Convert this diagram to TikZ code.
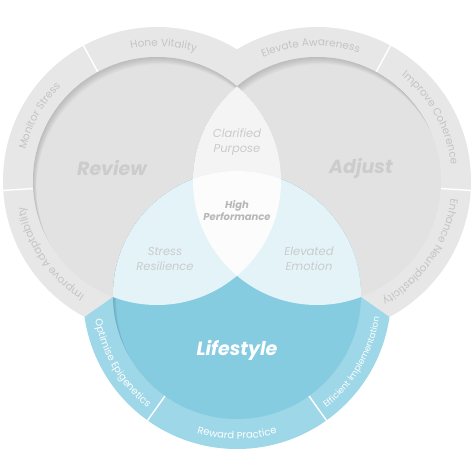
\documentclass[tikz,border=0pt]{standalone}
\usepackage{fontspec}
\setmainfont{Poppins}
\usetikzlibrary{decorations.text}

\definecolor{ringgray}{HTML}{E7E7E7}
\definecolor{diskgray}{HTML}{E2E2E2}
\definecolor{lensgray}{HTML}{F4F4F4}
\definecolor{lensblue}{HTML}{E3F3F8}
\definecolor{lifedisk}{HTML}{86CCE1}
\definecolor{lifering}{HTML}{9ED7E7}
\definecolor{graytext}{HTML}{C4C4C4}
\definecolor{lenstext}{HTML}{CBCBCB}
\definecolor{hightext}{HTML}{B7B7B7}

\newcommand{\ringfont}{\fontsize{10.5}{10.5}\selectfont}
\newcommand{\lifefont}{\fontsize{10}{10}\selectfont}
\newcommand{\lifesmallfont}{\fontsize{8.8}{8.8}\selectfont}

\begin{document}
\begin{tikzpicture}[x=1pt, y=1pt,
    ringlabel/.style={decorate, decoration={text along path, text align=center,
                      text color=graytext, text={|\ringfont|#1}}},
    lifelabel/.style={decorate, decoration={text along path, text align=center,
                      text color=white, text={|\lifefont|#1}}},
    lifelabelsmall/.style={decorate, decoration={text along path, text align=center,
                      text color=white, text={|\lifesmallfont|#1}}},
    divider/.style={white, line width=1.4pt},
    lenslabel/.style={align=center, text=lenstext,
                      font=\fontsize{11.5}{15}\selectfont\itshape},
    biglabel/.style={font=\fontsize{19}{19}\selectfont\bfseries\itshape}]

\useasboundingbox (-237,-237) rectangle (237,237);

\coordinate (review) at (-80,56);
\coordinate (adjust) at (80,56);
\coordinate (life) at (0,-58);
\coordinate (mid) at (0,27.07);

% outer rings, cut along the bisectors
\begin{scope}
  \clip (mid) -- (0,300) -- (-400,300) -- (-400,-253.6) -- cycle;
  \fill[ringgray] (review) circle (154);
\end{scope}
\begin{scope}
  \clip (mid) -- (0,300) -- (400,300) -- (400,-253.6) -- cycle;
  \fill[ringgray] (adjust) circle (154);
\end{scope}
\begin{scope}
  \clip (mid) -- (-400,-253.6) -- (-400,-400) -- (400,-400) -- (400,-253.6) -- cycle;
  \fill[lifering] (life) circle (154);
\end{scope}

\foreach \a in {118.5,183.5}
  \draw[divider] ([shift={(\a:122)}]review) -- ([shift={(\a:156)}]review);
\foreach \a in {61.5,-3.5}
  \draw[divider] ([shift={(\a:122)}]adjust) -- ([shift={(\a:156)}]adjust);
\foreach \a in {234.5,305.5}
  \draw[divider] ([shift={(\a:122)}]life) -- ([shift={(\a:156)}]life);

% inner disks with a soft inner shadow
\fill[diskgray] (review) circle (124);
\fill[diskgray] (adjust) circle (124);
\fill[lifedisk] (life) circle (124);
\foreach \c in {review,adjust,life} {
  \begin{scope}
    \clip (\c) circle (124);
    \foreach \s in {1,...,8}
      \fill[black, opacity=0.018, even odd rule] (\c) circle (140)
        ([shift={(0.45*\s,-0.9*\s)}]\c) circle (124);
  \end{scope}
}

% overlaps
\begin{scope}
  \clip (review) circle (124);
  \fill[lensgray] (adjust) circle (124);
  \fill[lensblue] (life) circle (124);
\end{scope}
\begin{scope}
  \clip (adjust) circle (124);
  \fill[lensblue] (life) circle (124);
\end{scope}
\begin{scope}
  \clip (review) circle (124);
  \clip (adjust) circle (124);
  \fill[white!99!black] (life) circle (124);
\end{scope}

% labels
\node[biglabel, text=black!20] (reviewlbl) at (-125,69) {Review};
\node[biglabel, text=black!20] (adjustlbl) at (124,69) {Adjust};
\node[biglabel, text=white] (lifelbl) at (0,-113) {Lifestyle};
\node[lenslabel] (purpose) at (0,95) {Clarified\\Purpose};
\node[lenslabel] (stress) at (-72,-22) {Stress\\Resilience};
\node[lenslabel] (emotion) at (72,-22) {Elevated\\Emotion};
\node[lenslabel, text=hightext, font=\fontsize{10}{12}\selectfont\bfseries\itshape]
  (high) at (0,26) {High\\Performance};

% ring texts
\path[ringlabel=Hone Vitality] ([shift={(118.5:135)}]review)
  arc[start angle=118.5, end angle=56, radius=135];
\path[ringlabel=Monitor Stress] ([shift={(183.5:135)}]review)
  arc[start angle=183.5, end angle=118.5, radius=135];
\path[ringlabel=Improve Adaptability] ([shift={(245:135)}]review)
  arc[start angle=245, end angle=183.5, radius=135];
\path[ringlabel=Elevate Awareness] ([shift={(124:135)}]adjust)
  arc[start angle=124, end angle=61.5, radius=135];
\path[ringlabel=Improve Coherence] ([shift={(61.5:135)}]adjust)
  arc[start angle=61.5, end angle=-3.5, radius=135];
\path[ringlabel=Enhance Neuroplasticity] ([shift={(-3.5:135)}]adjust)
  arc[start angle=-3.5, end angle=-65, radius=135];
\path[lifelabel=Optimise Epigenetics] ([shift={(187:144)}]life)
  arc[start angle=187, end angle=234.5, radius=144];
\path[lifelabel=Reward Practice] ([shift={(234.5:144)}]life)
  arc[start angle=234.5, end angle=305.5, radius=144];
\path[lifelabelsmall=Efficient Implementation] ([shift={(305.5:144)}]life)
  arc[start angle=305.5, end angle=354, radius=144];
\end{tikzpicture}
\end{document}
